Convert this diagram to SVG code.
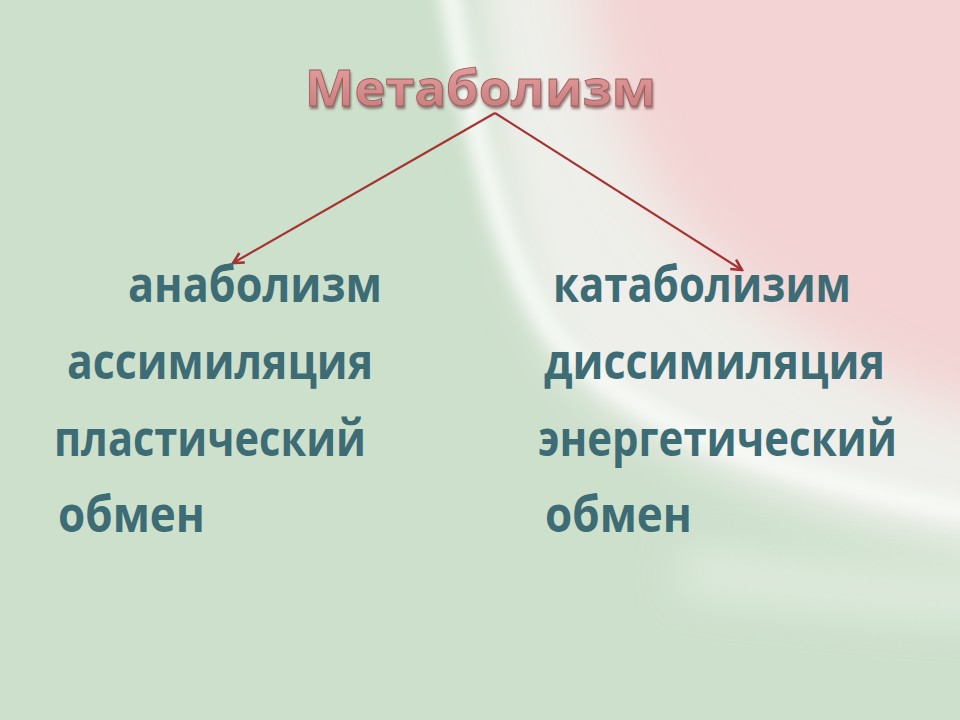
<svg xmlns="http://www.w3.org/2000/svg" width="960" height="720" viewBox="0 0 960 720">
<defs>
<filter id="blur30" filterUnits="userSpaceOnUse" x="-200" y="-200" width="1360" height="1120"><feGaussianBlur stdDeviation="30"/></filter>
<filter id="blur22" filterUnits="userSpaceOnUse" x="-200" y="-200" width="1360" height="1120"><feGaussianBlur stdDeviation="22"/></filter>
<filter id="blur8" filterUnits="userSpaceOnUse" x="-200" y="-200" width="1360" height="1120"><feGaussianBlur stdDeviation="8"/></filter>
<filter id="shadow" x="-10%" y="-30%" width="120%" height="160%">
<feDropShadow dx="1" dy="2.5" stdDeviation="1.2" flood-color="#5a3030" flood-opacity="0.6"/>
</filter>
<linearGradient id="titleGrad" x1="0" y1="0" x2="0" y2="1">
<stop offset="0" stop-color="#eaa6a6"/>
<stop offset="1" stop-color="#c47676"/>
</linearGradient>
<marker id="arrow" viewBox="0 0 14 14" refX="12" refY="7" markerWidth="14" markerHeight="14" markerUnits="userSpaceOnUse" orient="auto">
<path d="M1.5 1.5 L12 7 L1.5 12.5" fill="none" stroke="#a53333" stroke-width="2.6"/>
</marker>
<style>
.term{font-family:"Open Sans","Noto Sans","DejaVu Sans",sans-serif;font-weight:bold;font-size:42px;fill:#3e6c75}
.title{font-family:"Open Sans","Noto Sans","DejaVu Sans",sans-serif;font-weight:bold;font-size:50px;fill:url(#titleGrad);stroke:#9a5a5a;stroke-width:0.8}
.conn{stroke:#a53333;stroke-width:2.2;fill:none}
</style>
</defs>
<g id="background">
<rect width="960" height="720" fill="#cde0cc"/>
<path d="M470 -80 L1040 -80 L1040 560 C790 520 630 450 560 360 C505 270 485 100 470 -80 Z" fill="#eeefea" filter="url(#blur22)"/>
<path d="M575 -80 L1040 -80 L1040 425 C910 405 790 335 710 255 C640 185 595 90 575 -80 Z" fill="#f3d3d3" filter="url(#blur30)"/>
<path d="M448 -20 C468 100 495 250 555 335 C625 420 770 478 1000 518" fill="none" stroke="#f7faf6" stroke-width="20" filter="url(#blur8)"/>
<path d="M680 570 C800 585 900 592 1010 600" fill="none" stroke="#e6efe4" stroke-width="50" filter="url(#blur22)" opacity="0.7"/>
</g>
<g id="connectors">
<line class="conn" x1="495" y1="113" x2="233" y2="263" marker-end="url(#arrow)"/>
<line class="conn" x1="495" y1="113" x2="742" y2="270" marker-end="url(#arrow)"/>
</g>
<g id="title"><text class="title" x="305" y="106" textLength="351" lengthAdjust="spacingAndGlyphs" filter="url(#shadow)">Метаболизм</text></g>
<g id="anabolism"><text class="term" transform="translate(128,302) scale(1,1.2)" textLength="254" lengthAdjust="spacingAndGlyphs">анаболизм</text></g>
<g id="catabolism"><text class="term" transform="translate(553,302) scale(1,1.2)" textLength="298" lengthAdjust="spacingAndGlyphs">катаболизим</text></g>
<g id="assimilation"><text class="term" transform="translate(67,379) scale(1,1.2)" textLength="306" lengthAdjust="spacingAndGlyphs">ассимиляция</text></g>
<g id="dissimilation"><text class="term" transform="translate(544,379) scale(1,1.2)" textLength="341" lengthAdjust="spacingAndGlyphs">диссимиляция</text></g>
<g id="plastic"><text class="term" transform="translate(54,456) scale(1,1.2)" textLength="312" lengthAdjust="spacingAndGlyphs">пластический</text></g>
<g id="energetic"><text class="term" transform="translate(538,456) scale(1,1.2)" textLength="359" lengthAdjust="spacingAndGlyphs">энергетический</text></g>
<g id="exchange-left"><text class="term" transform="translate(58,532) scale(1,1.2)" textLength="147" lengthAdjust="spacingAndGlyphs">обмен</text></g>
<g id="exchange-right"><text class="term" transform="translate(545,532) scale(1,1.2)" textLength="147" lengthAdjust="spacingAndGlyphs">обмен</text></g>
</svg>
